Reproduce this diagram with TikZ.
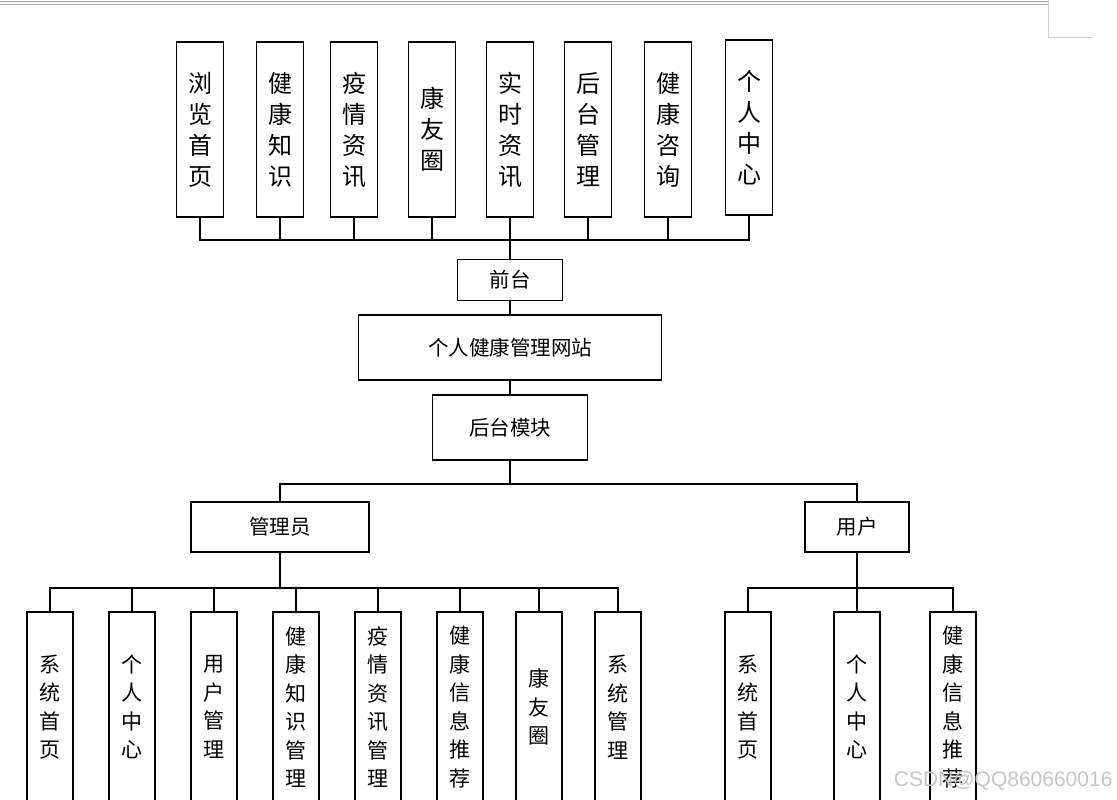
\documentclass[tikz,border=0pt]{standalone}
\usepackage{fontspec}
\setmainfont{Noto Sans CJK SC}
\newfontfamily\wmfont{Liberation Sans}
\usepackage{tikz}
\usetikzlibrary{positioning}

\tikzset{
  topbox/.style={draw, line width=1.2pt, minimum width=47pt, minimum height=175pt,
    inner sep=0pt, align=center, font=\fontsize{24}{31}\selectfont},
  subbox/.style={draw, line width=1.2pt, minimum width=46pt, minimum height=190pt,
    inner sep=0pt, align=center, font=\fontsize{21}{28.5}\selectfont},
  midbox/.style={draw, line width=1.2pt, inner sep=0pt, font=\fontsize{20.5}{24}\selectfont},
  link/.style={line width=1.3pt}
}

\begin{document}
\begin{tikzpicture}[x=1pt, y=-1pt]
  \useasboundingbox (0,0) rectangle (1117,800);
  \clip (0,0) rectangle (1117,800);

  % window edge
  \draw[gray!70, line width=1.2pt] (0,1.5) -- (1048,1.5);
  \draw[gray!55, line width=1pt] (0,4.5) -- (1048,4.5);
  \draw[gray!35, line width=0.8pt] (1048,0) -- (1048,37) -- (1092,37);

  % front end
  \node[topbox] (llsy) at (200,129.5) {浏\\览\\首\\页};
  \node[topbox] (jkzs) at (280,129.5) {健\\康\\知\\识};
  \node[topbox] (yqzx) at (354,129.5) {疫\\情\\资\\讯};
  \node[topbox] (kyq)  at (432,129.5) {康\\友\\圈};
  \node[topbox] (sszx) at (510,129.5) {实\\时\\资\\讯};
  \node[topbox] (htgl) at (588,129.5) {后\\台\\管\\理};
  \node[topbox] (jkzx) at (668,129.5) {健\\康\\咨\\询};
  \node[topbox] (grzx) at (749,127.5) {个\\人\\中\\心};

  \node[midbox, minimum width=105pt, minimum height=41pt] (qt) at (510,280) {前台};
  \node[midbox, minimum width=303pt, minimum height=65pt] (site) at (510,347.5) {个人健康管理网站};
  \node[midbox, minimum width=155pt, minimum height=65pt] (htmk) at (510,427.5) {后台模块};
  \node[midbox, minimum width=178pt, minimum height=50pt] (gly) at (280,527) {管理员};
  \node[midbox, minimum width=104pt, minimum height=50pt] (yh) at (857,527) {用户};

  % admin modules
  \node[subbox] (a1) at (50,707)  {系\\统\\首\\页};
  \node[subbox] (a2) at (132,707) {个\\人\\中\\心};
  \node[subbox] (a3) at (214,707) {用\\户\\管\\理};
  \node[subbox] (a4) at (296,707) {健\\康\\知\\识\\管\\理};
  \node[subbox] (a5) at (378,707) {疫\\情\\资\\讯\\管\\理};
  \node[subbox] (a6) at (460,707) {健\\康\\信\\息\\推\\荐};
  \node[subbox] (a7) at (539,707) {康\\友\\圈};
  \node[subbox] (a8) at (618,707) {系\\统\\管\\理};

  % user modules
  \node[subbox] (u1) at (748,707) {系\\统\\首\\页};
  \node[subbox] (u2) at (857,707) {个\\人\\中\\心};
  \node[subbox] (u3) at (953,707) {健\\康\\信\\息\\推\\荐};

  % connectors
  \coordinate (qbus) at (510,240);
  \draw[link] (llsy.south) |- (qbus);
  \draw[link] (jkzs.south) |- (qbus);
  \draw[link] (yqzx.south) |- (qbus);
  \draw[link] (kyq.south) |- (qbus);
  \draw[link] (sszx.south) |- (qbus);
  \draw[link] (htgl.south) |- (qbus);
  \draw[link] (jkzx.south) |- (qbus);
  \draw[link] (grzx.south) |- (qbus);
  \draw[link] (qbus) -- (qt.north);
  \draw[link] (qt.south) -- (site.north);
  \draw[link] (site.south) -- (htmk.north);

  \coordinate (hbus) at (510,484);
  \draw[link] (htmk.south) -- (hbus);
  \draw[link] (hbus) -| (gly.north);
  \draw[link] (hbus) -| (yh.north);

  \coordinate (gbus) at (280,588);
  \draw[link] (gly.south) -- (gbus);
  \draw[link] (gbus) -| (a1.north);
  \draw[link] (gbus) -| (a2.north);
  \draw[link] (gbus) -| (a3.north);
  \draw[link] (gbus) -| (a4.north);
  \draw[link] (gbus) -| (a5.north);
  \draw[link] (gbus) -| (a6.north);
  \draw[link] (gbus) -| (a7.north);
  \draw[link] (gbus) -| (a8.north);

  \coordinate (ubus) at (857,588);
  \draw[link] (yh.south) -- (ubus);
  \draw[link] (ubus) -| (u1.north);
  \draw[link] (ubus) -- (u2.north);
  \draw[link] (ubus) -| (u3.north);

  \node[anchor=east, text=gray!45, font=\wmfont\fontsize{21}{21}\selectfont] (wm) at (1116,781) {CSDN@QQ860660016};
\end{tikzpicture}
\end{document}
